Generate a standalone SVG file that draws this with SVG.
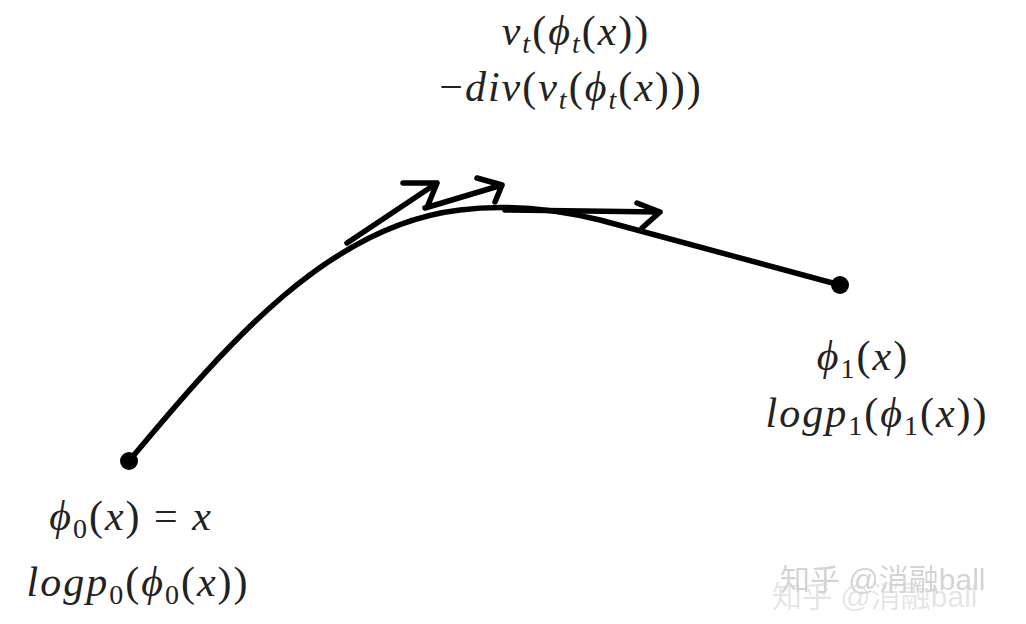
<svg xmlns="http://www.w3.org/2000/svg" width="1026" height="624" viewBox="0 0 1026 624">
<defs>
<filter id="dup" x="-10%" y="-30%" width="120%" height="180%">
<feOffset in="SourceGraphic" dx="-8" dy="17" result="o"/>
<feComponentTransfer in="o" result="o2"><feFuncA type="linear" slope="0.6"/></feComponentTransfer>
<feMerge><feMergeNode in="o2"/><feMergeNode in="SourceGraphic"/></feMerge>
</filter>
</defs>
<style>
.m{font-size:42px;fill:#222;letter-spacing:2px;text-anchor:middle;}
.i{font-style:italic;}
.s{font-size:28px;}
.ln{fill:none;stroke:#000;stroke-width:5.5;stroke-linecap:round;stroke-linejoin:round;}
.wm{font-size:30px;fill:#d4d4d4;}
</style>
<rect width="1026" height="624" fill="#fff"/>
<g id="connectors">
<path class="ln" d="M129,461 C230,340 330,225 460,210 C500,205 550,208 600,220 L840,285"/>
<path class="ln" d="M347,243 L437,183 M403,183 L437,183 L428,205"/>
<path class="ln" d="M425,208 L502,185 M477,178 L502,185 L495,202"/>
<path class="ln" d="M505,210 L660,212 M637,203 L660,212 L642,228"/>
</g>
<g id="node-start">
<circle cx="129" cy="461" r="9" fill="#000"/>
<text class="m" font-family="Liberation Serif, Times New Roman, serif" x="131" y="530"><tspan class="i">ϕ</tspan><tspan class="s" dy="8">0</tspan><tspan dy="-8">(</tspan><tspan class="i">x</tspan>) = <tspan class="i">x</tspan></text>
<text class="m" font-family="Liberation Serif, Times New Roman, serif" x="138" y="596"><tspan class="i">logp</tspan><tspan class="s" dy="8">0</tspan><tspan dy="-8">(</tspan><tspan class="i">ϕ</tspan><tspan class="s" dy="8">0</tspan><tspan dy="-8">(</tspan><tspan class="i">x</tspan>))</text>
</g>
<g id="node-end">
<circle cx="840" cy="285" r="9" fill="#000"/>
<text class="m" font-family="Liberation Serif, Times New Roman, serif" x="863" y="370"><tspan class="i">ϕ</tspan><tspan class="s" dy="8">1</tspan><tspan dy="-8">(</tspan><tspan class="i">x</tspan>)</text>
<text class="m" font-family="Liberation Serif, Times New Roman, serif" x="877" y="427"><tspan class="i">logp</tspan><tspan class="s" dy="8">1</tspan><tspan dy="-8">(</tspan><tspan class="i">ϕ</tspan><tspan class="s" dy="8">1</tspan><tspan dy="-8">(</tspan><tspan class="i">x</tspan>))</text>
</g>
<g id="node-velocity">
<text class="m" font-family="Liberation Serif, Times New Roman, serif" x="576" y="45"><tspan class="i">v</tspan><tspan class="s i" dy="8">t</tspan><tspan dy="-8">(</tspan><tspan class="i">ϕ</tspan><tspan class="s i" dy="8">t</tspan><tspan dy="-8">(</tspan><tspan class="i">x</tspan>))</text>
<text class="m" font-family="Liberation Serif, Times New Roman, serif" x="571" y="101">−<tspan class="i">div</tspan>(<tspan class="i">v</tspan><tspan class="s i" dy="8">t</tspan><tspan dy="-8">(</tspan><tspan class="i">ϕ</tspan><tspan class="s i" dy="8">t</tspan><tspan dy="-8">(</tspan><tspan class="i">x</tspan>)))</text>
</g>
<g id="watermark">
<text class="wm" font-family="Liberation Sans, Noto Sans CJK SC, sans-serif" x="780" y="590" filter="url(#dup)">知乎 @消融ball</text>
</g>
</svg>
